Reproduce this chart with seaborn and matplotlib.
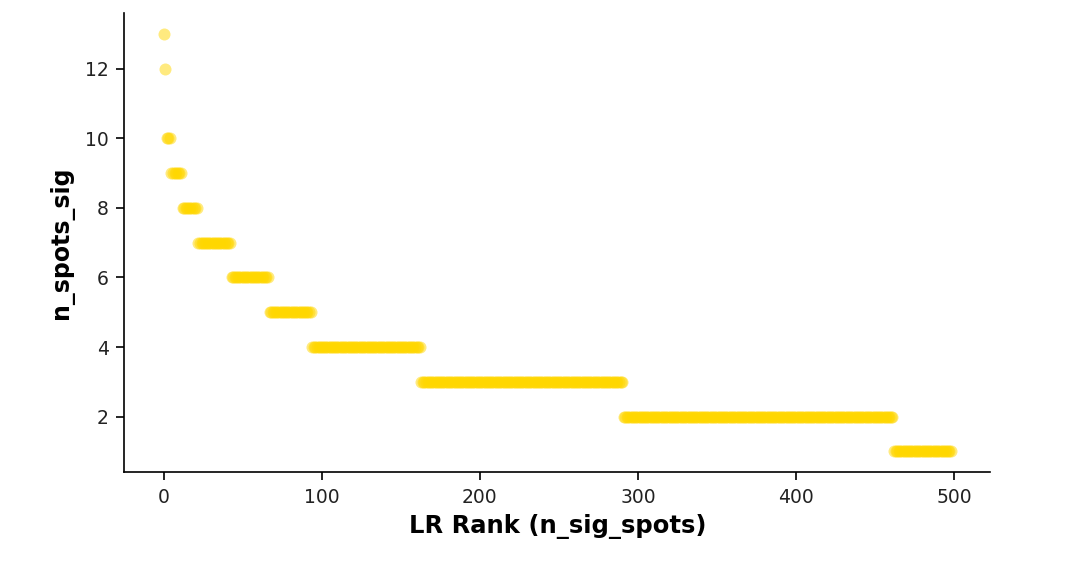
import numpy as np
import pandas as pd
import matplotlib
matplotlib.use('Agg')
import matplotlib.pyplot as plt
import seaborn as sns

# n_spots_sig levels and how many LR pairs sit at each level
levels = [13, 12, 10, 9, 8, 7, 6, 5, 4, 3, 2, 1]
counts = [1, 1, 3, 7, 10, 21, 24, 27, 69, 128, 171, 37]

n_sig = np.repeat(levels, counts)
df = pd.DataFrame({'rank': np.arange(len(n_sig)), 'n_spots_sig': n_sig})

plt.rcParams['font.family'] = ['DejaVu Sans']

fig, ax = plt.subplots(figsize=(10.8, 5.65), dpi=100)
sns.scatterplot(data=df, x='rank', y='n_spots_sig', color='gold', alpha=0.5,
                s=75, linewidth=0, ax=ax)
ax.set_xlabel('LR Rank (n_sig_spots)', fontsize=17.5, fontweight='bold', labelpad=5)
ax.set_ylabel('n_spots_sig', fontsize=17, fontweight='bold', labelpad=8)
ax.tick_params(labelsize=13.5, length=6, width=1.2, pad=5, labelcolor='#222222')
for sp in ['left', 'bottom']:
    ax.spines[sp].set_linewidth(1.2)
sns.despine(ax=ax)
fig.subplots_adjust(left=0.115, right=0.917, top=0.977, bottom=0.164)
plt.savefig('out.png')
